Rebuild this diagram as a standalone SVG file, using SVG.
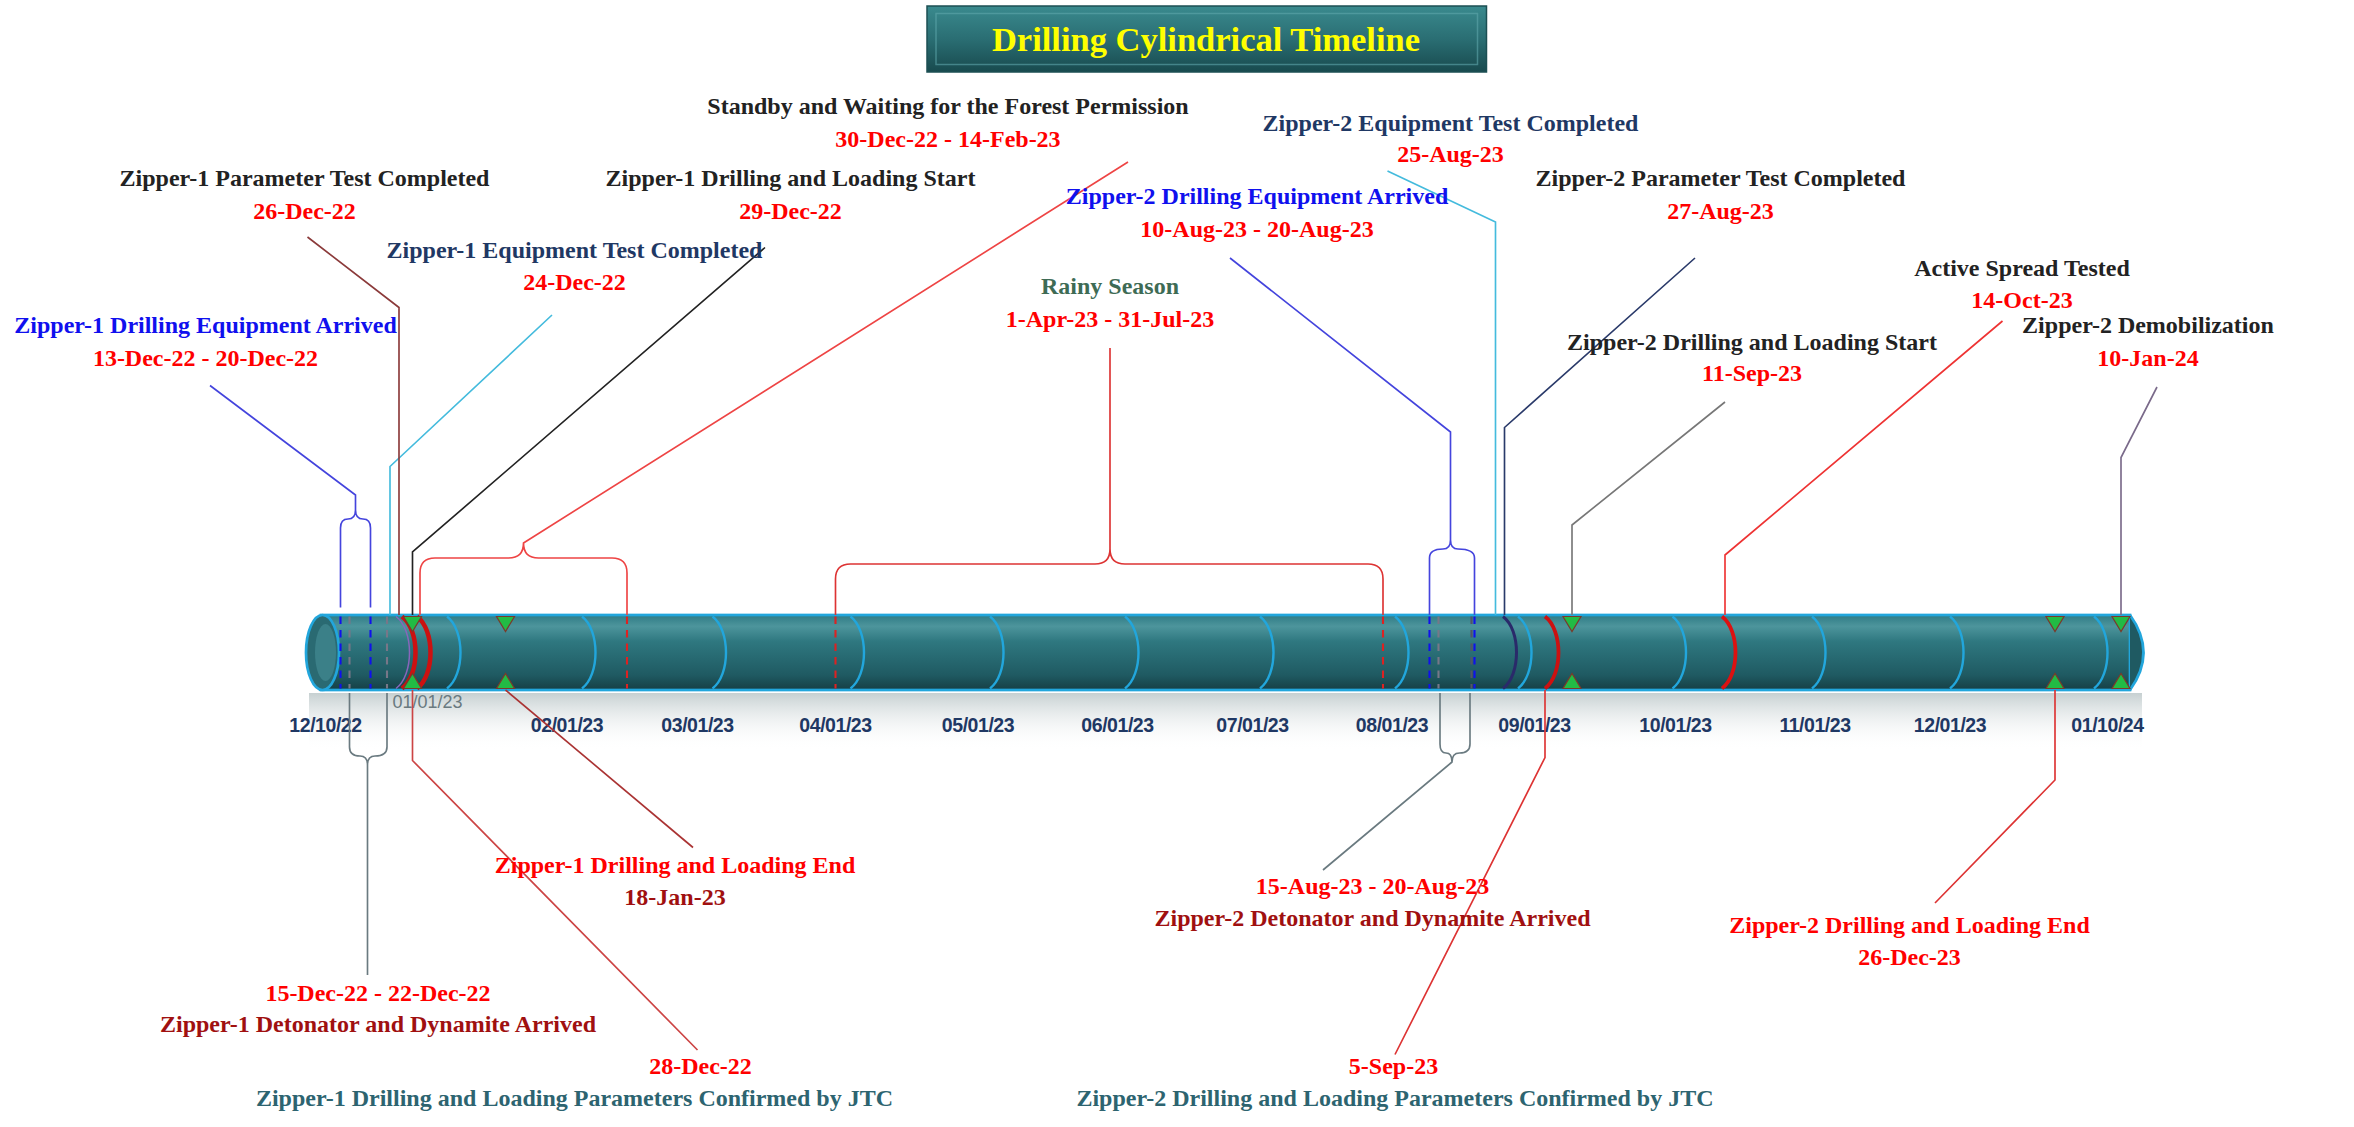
<svg xmlns="http://www.w3.org/2000/svg" width="2354" height="1127" viewBox="0 0 2354 1127">
<defs>
<style>
.t{font-family:"Liberation Serif",serif;font-weight:bold;font-size:16px;text-anchor:middle}
.r{fill:#ff0000}.k{fill:#222}.b{fill:#1010ee}.n{fill:#1f3864}.g{fill:#3e6b55}.dr{fill:#a01010}.tl{fill:#2d6470}
.d{font-family:"Liberation Sans",Arial,sans-serif;font-weight:bold;font-size:13px;fill:#1f3864;text-anchor:middle;letter-spacing:-0.3px}
.c{fill:none;stroke-width:1.1}
.arc{fill:none;stroke:#22a6dc;stroke-width:1.6}
.dash{stroke-dasharray:5 4;stroke-width:1.4;fill:none}
.tri{fill:#22bb44;stroke:#7a3a2a;stroke-width:0.8}
</style>
<linearGradient id="cyl" x1="0" y1="0" x2="0" y2="1">
<stop offset="0" stop-color="#2f7b85"/><stop offset="0.15" stop-color="#4d959c"/><stop offset="0.35" stop-color="#2f7880"/><stop offset="0.8" stop-color="#1f5a62"/><stop offset="1" stop-color="#163f45"/>
</linearGradient>
<linearGradient id="refl" x1="0" y1="0" x2="0" y2="1">
<stop offset="0" stop-color="#b8c4c6" stop-opacity="0.8"/><stop offset="1" stop-color="#ffffff" stop-opacity="0"/>
</linearGradient>
<linearGradient id="tb" x1="0" y1="0" x2="0" y2="1">
<stop offset="0" stop-color="#3a8a8e"/><stop offset="0.5" stop-color="#2a6e73"/><stop offset="1" stop-color="#184a4e"/>
</linearGradient>
</defs>
<g transform="scale(1.5)">
<g id="title">
<rect x="618" y="4" width="373" height="44" fill="url(#tb)" stroke="#1c4f53"/>
<rect x="624" y="9" width="361" height="34" fill="none" stroke="#5fa7ab" stroke-opacity="0.6"/>
<text x="804" y="34" style="font-family:'Liberation Serif',serif;font-weight:bold;font-size:23px;fill:#ffff00;text-anchor:middle">Drilling Cylindrical Timeline</text>
</g>
<g id="cylinder">
<rect x="206" y="462" width="1222" height="38" fill="url(#refl)"/>
<rect x="214" y="410" width="1206" height="50" fill="url(#cyl)" stroke="#22a6dc" stroke-width="1.8"/>
<path d="M1420 410 Q1438 435 1420 460" fill="#1f5a62" stroke="#22a6dc" stroke-width="1.8"/>
<ellipse cx="215" cy="435" rx="11" ry="25" fill="#2a6a72" stroke="#22a6dc" stroke-width="1.8"/>
<ellipse cx="217" cy="435" rx="7" ry="19" fill="#3b8088"/>
<g class="arcs">
<path class="arc" d="M298 411 C310 420 310 450 298 459"/>
<path class="arc" d="M388 411 C400 420 400 450 388 459"/>
<path class="arc" d="M475 411 C487 420 487 450 475 459"/>
<path class="arc" d="M567 411 C579 420 579 450 567 459"/>
<path class="arc" d="M660 411 C672 420 672 450 660 459"/>
<path class="arc" d="M750 411 C762 420 762 450 750 459"/>
<path class="arc" d="M840 411 C852 420 852 450 840 459"/>
<path class="arc" d="M930 411 C942 420 942 450 930 459"/>
<path class="arc" d="M1012 411 C1024 420 1024 450 1012 459"/>
<path class="arc" d="M1115 411 C1127 420 1127 450 1115 459"/>
<path class="arc" d="M1208 411 C1220 420 1220 450 1208 459"/>
<path class="arc" d="M1300 411 C1312 420 1312 450 1300 459"/>
<path class="arc" d="M1396 411 C1408 420 1408 450 1396 459"/>
</g>
<path d="M268 411 C280 420 280 450 268 459" fill="none" stroke="#cc1111" stroke-width="3"/>
<path d="M278 411 C290 420 290 450 278 459" fill="none" stroke="#cc1111" stroke-width="3"/>
<path d="M264 411 C276 420 276 450 264 459" fill="none" stroke="#8866bb" stroke-width="1"/>
<path d="M1002 411 C1014 420 1014 450 1002 459" fill="none" stroke="#2a2a6a" stroke-width="2"/>
<path d="M1030 411 C1042 420 1042 450 1030 459" fill="none" stroke="#cc1111" stroke-width="2.5"/>
<path d="M1148 411 C1160 420 1160 450 1148 459" fill="none" stroke="#dd1111" stroke-width="2.5"/>
<line class="dash" x1="227" y1="411" x2="227" y2="459" stroke="#1010ee"/>
<line class="dash" x1="247" y1="411" x2="247" y2="459" stroke="#1010ee"/>
<line class="dash" x1="233" y1="411" x2="233" y2="459" stroke="#778"/>
<line class="dash" x1="258" y1="411" x2="258" y2="459" stroke="#778"/>
<line class="dash" x1="418" y1="411" x2="418" y2="459" stroke="#dd2222"/>
<line class="dash" x1="557" y1="411" x2="557" y2="459" stroke="#dd2222"/>
<line class="dash" x1="922" y1="411" x2="922" y2="459" stroke="#dd2222"/>
<line class="dash" x1="953" y1="411" x2="953" y2="459" stroke="#1010ee"/>
<line class="dash" x1="983" y1="411" x2="983" y2="459" stroke="#1010ee"/>
<line class="dash" x1="959" y1="411" x2="959" y2="459" stroke="#778"/>
<line class="dash" x1="981" y1="411" x2="981" y2="459" stroke="#556"/>
</g>
<g id="dates">
<text class="d" x="217" y="488">12/10/22</text>
<text x="285" y="472" style="font-family:'Liberation Sans',Arial,sans-serif;font-size:12px;fill:#6a7a80;text-anchor:middle">01/01/23</text>
<text class="d" x="378" y="488">02/01/23</text>
<text class="d" x="465" y="488">03/01/23</text>
<text class="d" x="557" y="488">04/01/23</text>
<text class="d" x="652" y="488">05/01/23</text>
<text class="d" x="745" y="488">06/01/23</text>
<text class="d" x="835" y="488">07/01/23</text>
<text class="d" x="928" y="488">08/01/23</text>
<text class="d" x="1023" y="488">09/01/23</text>
<text class="d" x="1117" y="488">10/01/23</text>
<text class="d" x="1210" y="488">11/01/23</text>
<text class="d" x="1300" y="488">12/01/23</text>
<text class="d" x="1405" y="488">01/10/24</text>
</g>
<g id="connectors">
<path class="c" stroke="#4444dd" d="M140 257 L237 330 V340 Q237 346 232 346 Q227 346 227 352 V405 M237 340 Q237 346 242 346 Q247 346 247 352 V405"/>
<path class="c" stroke="#44bbdd" d="M368 210 L260 311 V410"/>
<path class="c" stroke="#8b3a3a" d="M205 158 L266 205 V410"/>
<path class="c" stroke="#222" d="M510 165 L275 368 V410"/>
<path class="c" stroke="#ee4444" d="M752 108 L349 362 Q349 372 339 372 H290 Q280 372 280 382 V410 M349 362 Q349 372 359 372 H408 Q418 372 418 382 V410"/>
<path class="c" stroke="#dd3333" d="M740 232 V366 Q740 376 730 376 H567 Q557 376 557 386 V410 M740 366 Q740 376 750 376 H912 Q922 376 922 386 V410"/>
<path class="c" stroke="#4444dd" d="M820 172 L967 288 V360 Q967 366 962 366 Q953 366 953 372 V410 M967 360 Q967 366 972 366 Q983 366 983 372 V410"/>
<path class="c" stroke="#44bbdd" d="M925 114 L997 148 V410"/>
<path class="c" stroke="#2a3a6a" d="M1130 172 L1003 285 V410"/>
<path class="c" stroke="#777" d="M1150 268 L1048 350 V410"/>
<path class="c" stroke="#ee3333" d="M1335 214 L1150 370 V410"/>
<path class="c" stroke="#7a6a8a" d="M1438 258 L1414 305 V410"/>
<path class="c" stroke="#6a7a80" d="M245 650 V510 Q245 504 240 504 Q233 504 233 498 V462 M245 510 Q245 504 250 504 Q258 504 258 498 V462"/>
<path class="c" stroke="#cc4444" d="M465 700 L275 507 V460"/>
<path class="c" stroke="#aa3333" d="M462 565 L337 460"/>
<path class="c" stroke="#6a7a80" d="M882 580 L968 508 Q968 502 964 502 Q960 502 960 496 V462 M968 508 Q968 502 973 502 Q980 502 980 496 V462"/>
<path class="c" stroke="#dd3333" d="M930 703 L1030 505 V460"/>
<path class="c" stroke="#dd3333" d="M1290 602 L1370 520 V460"/>
</g>
<g id="markers">
<path class="tri" d="M269 411 H281 L275 421 Z"/><path class="tri" d="M269 459 H281 L275 449 Z"/>
<path class="tri" d="M331 411 H343 L337 421 Z"/><path class="tri" d="M331 459 H343 L337 449 Z"/>
<path class="tri" d="M1042 411 H1054 L1048 421 Z"/><path class="tri" d="M1042 459 H1054 L1048 449 Z"/>
<path class="tri" d="M1364 411 H1376 L1370 421 Z"/><path class="tri" d="M1364 459 H1376 L1370 449 Z"/>
<path class="tri" d="M1408 411 H1420 L1414 421 Z"/><path class="tri" d="M1408 459 H1420 L1414 449 Z"/>
</g>
<g id="n1"><text class="t b" x="137" y="222">Zipper-1 Drilling Equipment Arrived</text><text class="t r" x="137" y="244">13-Dec-22 - 20-Dec-22</text></g>
<g id="n2"><text class="t n" x="383" y="172">Zipper-1 Equipment Test Completed</text><text class="t r" x="383" y="193">24-Dec-22</text></g>
<g id="n3"><text class="t k" x="203" y="124">Zipper-1 Parameter Test Completed</text><text class="t r" x="203" y="146">26-Dec-22</text></g>
<g id="n4"><text class="t k" x="527" y="124">Zipper-1 Drilling and Loading Start</text><text class="t r" x="527" y="146">29-Dec-22</text></g>
<g id="n5"><text class="t k" x="632" y="76">Standby and Waiting for the Forest Permission</text><text class="t r" x="632" y="98">30-Dec-22 - 14-Feb-23</text></g>
<g id="n6"><text class="t g" x="740" y="196">Rainy Season</text><text class="t r" x="740" y="218">1-Apr-23 - 31-Jul-23</text></g>
<g id="n7"><text class="t b" x="838" y="136">Zipper-2 Drilling Equipment Arrived</text><text class="t r" x="838" y="158">10-Aug-23 - 20-Aug-23</text></g>
<g id="n8"><text class="t n" x="967" y="87">Zipper-2 Equipment Test Completed</text><text class="t r" x="967" y="108">25-Aug-23</text></g>
<g id="n9"><text class="t k" x="1147" y="124">Zipper-2 Parameter Test Completed</text><text class="t r" x="1147" y="146">27-Aug-23</text></g>
<g id="n10"><text class="t k" x="1168" y="233">Zipper-2 Drilling and Loading Start</text><text class="t r" x="1168" y="254">11-Sep-23</text></g>
<g id="n11"><text class="t k" x="1348" y="184">Active Spread Tested</text><text class="t r" x="1348" y="205">14-Oct-23</text></g>
<g id="n12"><text class="t k" x="1432" y="222">Zipper-2 Demobilization</text><text class="t r" x="1432" y="244">10-Jan-24</text></g>
<g id="n13"><text class="t r" x="252" y="667">15-Dec-22 - 22-Dec-22</text><text class="t dr" x="252" y="688">Zipper-1 Detonator and Dynamite Arrived</text></g>
<g id="n14"><text class="t r" x="467" y="716">28-Dec-22</text><text class="t tl" x="383" y="737">Zipper-1 Drilling and Loading Parameters Confirmed by JTC</text></g>
<g id="n15"><text class="t r" x="450" y="582">Zipper-1 Drilling and Loading End</text><text class="t dr" x="450" y="603">18-Jan-23</text></g>
<g id="n16"><text class="t r" x="915" y="596">15-Aug-23 - 20-Aug-23</text><text class="t dr" x="915" y="617">Zipper-2 Detonator and Dynamite Arrived</text></g>
<g id="n17"><text class="t r" x="929" y="716">5-Sep-23</text><text class="t tl" x="930" y="737">Zipper-2 Drilling and Loading Parameters Confirmed by JTC</text></g>
<g id="n18"><text class="t r" x="1273" y="622">Zipper-2 Drilling and Loading End</text><text class="t r" x="1273" y="643">26-Dec-23</text></g>
</g>
</svg>
